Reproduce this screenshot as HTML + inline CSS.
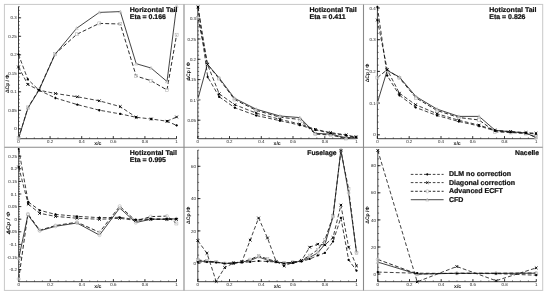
<!DOCTYPE html>
<html lang="en"><head><meta charset="utf-8"><title>Delta Cp comparison</title>
<style>
html,body{margin:0;padding:0;background:#fff;}
body{width:550px;height:295px;overflow:hidden;}
svg{display:block;}
text{font-family:"Liberation Sans", sans-serif;text-rendering:geometricPrecision;}
.tt{font-size:6.85px;font-weight:bold;fill:#111;stroke:#111;stroke-width:0.22;}
.lg{font-size:7.05px;font-weight:bold;fill:#111;stroke:#111;stroke-width:0.22;}
.tk{font-size:4.4px;fill:#1a1a1a;}
.xl{font-size:5.2px;font-weight:bold;fill:#222;}
.yl{font-size:5.1px;font-weight:bold;fill:#111;}
.ax{fill:none;stroke:#2a2a2a;stroke-width:0.9;}
.tkl{fill:none;stroke:#222;stroke-width:0.6;}.tkM{fill:none;stroke:#111;stroke-width:0.85;}
.sol{fill:none;stroke:#222;stroke-width:0.85;stroke-linejoin:round;}
.ecf{fill:none;stroke:#1a1a1a;stroke-width:0.92;stroke-dasharray:3.9 2.2;}
.dlm{fill:none;stroke:#111;stroke-width:0.8;stroke-dasharray:3.8 2.2;}
.dia{fill:none;stroke:#111;stroke-width:0.8;stroke-dasharray:3.8 2.2;}
.mx{fill:none;stroke:#000;stroke-width:1.0;}
.mp{fill:none;stroke:#000;stroke-width:1.2;}
.ms{fill:#fff;fill-opacity:0.5;stroke:#a0a0a0;stroke-width:0.45;}
.bd{fill:none;stroke:#c8c8c8;stroke-width:1;}
.dv{fill:none;stroke:#8a8a8a;stroke-width:1.1;}
</style></head><body>
<svg width="550" height="295" viewBox="0 0 550 295">
<defs><filter id="soft" filterUnits="userSpaceOnUse" x="0" y="0" width="550" height="295"><feGaussianBlur stdDeviation="0.32"/></filter></defs>
<rect x="0" y="0" width="550" height="295" fill="#fff"/>
<g filter="url(#soft)">
<rect class="bd" x="4.4" y="4.4" width="538.3" height="286"/>
<path class="dv" d="M184 4.4L184 290.4M363.5 4.4L363.5 290.4M4.4 147.3L542.7 147.3"/>
<path class="ax" d="M18.5 6.5L18.5 138.7L176.5 138.7"/>
<text class="tk" text-anchor="end" x="16.7" y="130.4">0</text>
<text class="tk" text-anchor="end" x="16.7" y="111.9">0.05</text>
<text class="tk" text-anchor="end" x="16.7" y="93.4">0.1</text>
<text class="tk" text-anchor="end" x="16.7" y="74.9">0.15</text>
<text class="tk" text-anchor="end" x="16.7" y="56.4">0.2</text>
<text class="tk" text-anchor="end" x="16.7" y="37.9">0.25</text>
<text class="tk" text-anchor="end" x="16.7" y="19.4">0.3</text>
<path class="tkl" d="M26.4 138.7L26.4 137.4M34.3 138.7L34.3 137.4M42.2 138.7L42.2 137.4M58.0 138.7L58.0 137.4M65.9 138.7L65.9 137.4M73.8 138.7L73.8 137.4M89.6 138.7L89.6 137.4M97.5 138.7L97.5 137.4M105.4 138.7L105.4 137.4M121.2 138.7L121.2 137.4M129.1 138.7L129.1 137.4M137.0 138.7L137.0 137.4M152.8 138.7L152.8 137.4M160.7 138.7L160.7 137.4M168.6 138.7L168.6 137.4M18.5 136.2L19.8 136.2M18.5 132.5L19.8 132.5M18.5 128.8L19.8 128.8M18.5 125.1L19.8 125.1M18.5 121.4L19.8 121.4M18.5 117.7L19.8 117.7M18.5 114.0L19.8 114.0M18.5 110.3L19.8 110.3M18.5 106.6L19.8 106.6M18.5 102.9L19.8 102.9M18.5 99.2L19.8 99.2M18.5 95.5L19.8 95.5M18.5 91.8L19.8 91.8M18.5 88.1L19.8 88.1M18.5 84.4L19.8 84.4M18.5 80.7L19.8 80.7M18.5 77.0L19.8 77.0M18.5 73.3L19.8 73.3M18.5 69.6L19.8 69.6M18.5 65.9L19.8 65.9M18.5 62.2L19.8 62.2M18.5 58.5L19.8 58.5M18.5 54.8L19.8 54.8M18.5 51.1L19.8 51.1M18.5 47.4L19.8 47.4M18.5 43.7L19.8 43.7M18.5 40.0L19.8 40.0M18.5 36.3L19.8 36.3M18.5 32.6L19.8 32.6M18.5 28.9L19.8 28.9M18.5 25.2L19.8 25.2M18.5 21.5L19.8 21.5M18.5 17.8L19.8 17.8M18.5 14.1L19.8 14.1M18.5 10.4L19.8 10.4M18.5 6.7L19.8 6.7"/>
<path class="tkM" d="M18.5 138.7L18.5 136.1M50.1 138.7L50.1 136.1M81.7 138.7L81.7 136.1M113.3 138.7L113.3 136.1M144.9 138.7L144.9 136.1M176.5 138.7L176.5 136.1M18.5 128.8L21.1 128.8M18.5 110.3L21.1 110.3M18.5 91.8L21.1 91.8M18.5 73.3L21.1 73.3M18.5 54.8L21.1 54.8M18.5 36.3L21.1 36.3M18.5 17.8L21.1 17.8"/>
<text class="tk" text-anchor="middle" x="18.5" y="143">0</text>
<text class="tk" text-anchor="middle" x="50.1" y="143">0.2</text>
<text class="tk" text-anchor="middle" x="81.7" y="143">0.4</text>
<text class="tk" text-anchor="middle" x="113.3" y="143">0.6</text>
<text class="tk" text-anchor="middle" x="144.9" y="143">0.8</text>
<text class="tk" text-anchor="middle" x="176.5" y="143">1</text>
<text class="xl" x="94.3" y="144.6">x/c</text>
<text class="yl"  x="-9.3" textLength="18.6" lengthAdjust="spacingAndGlyphs" transform="translate(9.3 83.8) rotate(-90)">ΔCp / Φ</text>
<path class="ecf" d="M18.6 138.2 L28.0 107.4 L39.0 89.6 L55.0 54.0 L76.8 34.3 L99.3 23.4 L120.3 24.0 L136.2 76.1 L151.0 80.7 L167.0 90.0 L176.6 34.7"/>
<rect class="ms" x="17.1" y="136.7" width="3.0" height="3.0"/>
<rect class="ms" x="26.5" y="105.9" width="3.0" height="3.0"/>
<rect class="ms" x="37.5" y="88.1" width="3.0" height="3.0"/>
<rect class="ms" x="53.5" y="52.5" width="3.0" height="3.0"/>
<rect class="ms" x="75.3" y="32.8" width="3.0" height="3.0"/>
<rect class="ms" x="97.8" y="21.9" width="3.0" height="3.0"/>
<rect class="ms" x="118.8" y="22.5" width="3.0" height="3.0"/>
<rect class="ms" x="134.7" y="74.6" width="3.0" height="3.0"/>
<rect class="ms" x="149.5" y="79.2" width="3.0" height="3.0"/>
<rect class="ms" x="165.5" y="88.5" width="3.0" height="3.0"/>
<rect class="ms" x="175.1" y="33.2" width="3.0" height="3.0"/>
<path class="sol" d="M18.6 138.2 L28.0 108.0 L39.0 90.2 L55.0 54.4 L76.6 28.3 L99.3 12.4 L120.3 11.6 L136.2 63.7 L151.0 68.0 L167.0 81.5 L176.6 6.0"/>
<path class="ms" d="M17.0 139.5L20.2 139.5L18.6 136.6Z"/>
<path class="ms" d="M26.4 109.3L29.6 109.3L28.0 106.4Z"/>
<path class="ms" d="M37.4 91.5L40.6 91.5L39.0 88.6Z"/>
<path class="ms" d="M53.4 55.7L56.6 55.7L55.0 52.8Z"/>
<path class="ms" d="M75.0 29.6L78.2 29.6L76.6 26.7Z"/>
<path class="ms" d="M97.7 13.7L100.9 13.7L99.3 10.8Z"/>
<path class="ms" d="M118.7 12.9L121.9 12.9L120.3 10.0Z"/>
<path class="ms" d="M134.6 65.0L137.8 65.0L136.2 62.1Z"/>
<path class="ms" d="M149.4 69.3L152.6 69.3L151.0 66.4Z"/>
<path class="ms" d="M165.4 82.8L168.6 82.8L167.0 79.9Z"/>
<path class="ms" d="M175.0 7.3L178.2 7.3L176.6 4.4Z"/>
<path class="dlm" d="M18.5 54.4 L27.8 79.3 L39.0 90.2 L55.4 98.0 L77.3 104.6 L99.3 110.2 L120.2 113.9 L136.2 117.3 L151.3 119.0 L167.0 121.2 L176.6 125.4"/>
<path class="dia" d="M18.5 67.0 L27.8 84.4 L39.0 90.2 L55.4 93.5 L77.3 96.8 L99.3 100.8 L120.2 106.6 L136.2 117.3"/>
<path class="dia" d="M167.0 121.2 L176.6 117.0"/>
<path class="mp" d="M17.4 54.4L19.6 54.4M18.5 53.2L18.5 55.5M26.7 79.3L28.9 79.3M27.8 78.1L27.8 80.5M37.9 90.2L40.1 90.2M39.0 89.0L39.0 91.4M54.2 98.0L56.5 98.0M55.4 96.8L55.4 99.2M76.1 104.6L78.5 104.6M77.3 103.4L77.3 105.8M98.1 110.2L100.5 110.2M99.3 109.0L99.3 111.4M119.0 113.9L121.4 113.9M120.2 112.8L120.2 115.1M135.0 117.3L137.3 117.3M136.2 116.1L136.2 118.5M150.2 119.0L152.5 119.0M151.3 117.8L151.3 120.2M165.8 121.2L168.2 121.2M167.0 120.0L167.0 122.4M175.4 125.4L177.8 125.4M176.6 124.2L176.6 126.6"/>
<path class="mx" d="M17.2 65.7L19.8 68.3M17.2 68.3L19.8 65.7M26.5 83.1L29.1 85.7M26.5 85.7L29.1 83.1M37.7 88.9L40.3 91.5M37.7 91.5L40.3 88.9M54.1 92.2L56.7 94.8M54.1 94.8L56.7 92.2M76.0 95.5L78.6 98.1M76.0 98.1L78.6 95.5M98.0 99.5L100.6 102.1M98.0 102.1L100.6 99.5M118.9 105.3L121.5 107.9M118.9 107.9L121.5 105.3M134.9 116.0L137.5 118.6M134.9 118.6L137.5 116.0M150.0 117.7L152.6 120.3M150.0 120.3L152.6 117.7M165.7 119.9L168.3 122.5M165.7 122.5L168.3 119.9M175.3 115.7L177.9 118.3M175.3 118.3L177.9 115.7"/>
<text class="tt" x="129.8" y="11.9" textLength="47.7" lengthAdjust="spacingAndGlyphs">Horizontal Tail</text>
<text class="tt" x="129.8" y="18.8" textLength="36.1" lengthAdjust="spacingAndGlyphs">Eta = 0.166</text>
<path class="ax" d="M197.8 6.5L197.8 138.7L356.5 138.7"/>
<text class="tk" text-anchor="end" x="196.0" y="121.8">0.05</text>
<text class="tk" text-anchor="end" x="196.0" y="101.5">0.1</text>
<text class="tk" text-anchor="end" x="196.0" y="81.2">0.15</text>
<text class="tk" text-anchor="end" x="196.0" y="60.9">0.2</text>
<text class="tk" text-anchor="end" x="196.0" y="40.6">0.25</text>
<text class="tk" text-anchor="end" x="196.0" y="20.3">0.3</text>
<path class="tkl" d="M205.7 138.7L205.7 137.4M213.7 138.7L213.7 137.4M221.6 138.7L221.6 137.4M237.5 138.7L237.5 137.4M245.4 138.7L245.4 137.4M253.3 138.7L253.3 137.4M269.2 138.7L269.2 137.4M277.1 138.7L277.1 137.4M285.1 138.7L285.1 137.4M301.0 138.7L301.0 137.4M308.9 138.7L308.9 137.4M316.8 138.7L316.8 137.4M332.7 138.7L332.7 137.4M340.6 138.7L340.6 137.4M348.6 138.7L348.6 137.4M197.8 136.4L199.1 136.4M197.8 132.4L199.1 132.4M197.8 128.3L199.1 128.3M197.8 124.3L199.1 124.3M197.8 120.2L199.1 120.2M197.8 116.1L199.1 116.1M197.8 112.1L199.1 112.1M197.8 108.0L199.1 108.0M197.8 104.0L199.1 104.0M197.8 99.9L199.1 99.9M197.8 95.8L199.1 95.8M197.8 91.8L199.1 91.8M197.8 87.7L199.1 87.7M197.8 83.7L199.1 83.7M197.8 79.6L199.1 79.6M197.8 75.5L199.1 75.5M197.8 71.5L199.1 71.5M197.8 67.4L199.1 67.4M197.8 63.4L199.1 63.4M197.8 59.3L199.1 59.3M197.8 55.2L199.1 55.2M197.8 51.2L199.1 51.2M197.8 47.1L199.1 47.1M197.8 43.1L199.1 43.1M197.8 39.0L199.1 39.0M197.8 34.9L199.1 34.9M197.8 30.9L199.1 30.9M197.8 26.8L199.1 26.8M197.8 22.8L199.1 22.8M197.8 18.7L199.1 18.7M197.8 14.6L199.1 14.6M197.8 10.6L199.1 10.6M197.8 6.5L199.1 6.5"/>
<path class="tkM" d="M197.8 138.7L197.8 136.1M229.5 138.7L229.5 136.1M261.3 138.7L261.3 136.1M293.0 138.7L293.0 136.1M324.8 138.7L324.8 136.1M356.5 138.7L356.5 136.1M197.8 120.2L200.4 120.2M197.8 99.9L200.4 99.9M197.8 79.6L200.4 79.6M197.8 59.3L200.4 59.3M197.8 39.0L200.4 39.0M197.8 18.7L200.4 18.7"/>
<text class="tk" text-anchor="middle" x="197.8" y="143">0</text>
<text class="tk" text-anchor="middle" x="229.5" y="143">0.2</text>
<text class="tk" text-anchor="middle" x="261.3" y="143">0.4</text>
<text class="tk" text-anchor="middle" x="293.0" y="143">0.6</text>
<text class="tk" text-anchor="middle" x="324.8" y="143">0.8</text>
<text class="tk" text-anchor="middle" x="356.5" y="143">1</text>
<text class="xl" x="273.5" y="144.6">x/c</text>
<text class="yl"  x="-9.3" textLength="18.6" lengthAdjust="spacingAndGlyphs" transform="translate(189.7 71.3) rotate(-90)">ΔCp / Φ</text>
<path class="ecf" d="M198.0 18.0 L207.4 64.2 L218.9 78.5 L234.5 99.5 L256.2 110.3 L279.9 117.2 L299.8 119.5 L315.3 134.1 L330.7 135.0 L346.2 138.5 L356.1 137.0"/>
<rect class="ms" x="196.5" y="16.5" width="3.0" height="3.0"/>
<rect class="ms" x="205.9" y="62.7" width="3.0" height="3.0"/>
<rect class="ms" x="217.4" y="77.0" width="3.0" height="3.0"/>
<rect class="ms" x="233.0" y="98.0" width="3.0" height="3.0"/>
<rect class="ms" x="254.7" y="108.8" width="3.0" height="3.0"/>
<rect class="ms" x="278.4" y="115.7" width="3.0" height="3.0"/>
<rect class="ms" x="298.3" y="118.0" width="3.0" height="3.0"/>
<rect class="ms" x="313.8" y="132.6" width="3.0" height="3.0"/>
<rect class="ms" x="329.2" y="133.5" width="3.0" height="3.0"/>
<rect class="ms" x="344.7" y="137.0" width="3.0" height="3.0"/>
<rect class="ms" x="354.6" y="135.5" width="3.0" height="3.0"/>
<path class="sol" d="M198.0 98.6 L207.4 64.2 L218.9 77.6 L234.5 98.3 L256.2 109.2 L279.9 116.0 L299.8 117.6 L315.3 133.3 L330.7 134.1 L346.2 137.8 L356.1 137.0"/>
<path class="ms" d="M196.4 99.9L199.6 99.9L198.0 97.0Z"/>
<path class="ms" d="M205.8 65.5L209.0 65.5L207.4 62.6Z"/>
<path class="ms" d="M217.3 78.9L220.5 78.9L218.9 76.0Z"/>
<path class="ms" d="M232.9 99.6L236.1 99.6L234.5 96.7Z"/>
<path class="ms" d="M254.6 110.5L257.8 110.5L256.2 107.6Z"/>
<path class="ms" d="M278.3 117.3L281.5 117.3L279.9 114.4Z"/>
<path class="ms" d="M298.2 118.9L301.4 118.9L299.8 116.0Z"/>
<path class="ms" d="M313.7 134.6L316.9 134.6L315.3 131.7Z"/>
<path class="ms" d="M329.1 135.4L332.3 135.4L330.7 132.5Z"/>
<path class="ms" d="M344.6 139.1L347.8 139.1L346.2 136.2Z"/>
<path class="ms" d="M354.5 138.3L357.7 138.3L356.1 135.4Z"/>
<path class="dlm" d="M198.0 7.0 L207.7 77.0 L219.2 96.8"/>
<path class="dlm" d="M219.2 96.8 L234.8 107.7 L256.2 115.5 L279.9 120.7 L299.8 125.1 L315.3 129.9 L330.7 133.2 L346.2 135.5 L356.1 137.5"/>
<path class="dia" d="M198.0 7.0 L207.5 64.5 L219.2 93.8"/>
<path class="dia" d="M219.2 93.8 L234.8 104.7 L256.2 113.1 L279.9 119.3 L299.8 124.0 L315.3 129.3 L330.7 132.6 L346.2 134.9 L356.1 137.1"/>
<path class="mp" d="M196.8 7.0L199.2 7.0M198.0 5.8L198.0 8.2M206.5 77.0L208.8 77.0M207.7 75.8L207.7 78.2M218.0 96.8L220.3 96.8M219.2 95.6L219.2 98.0M233.7 107.7L236.0 107.7M234.8 106.5L234.8 108.9M255.0 115.5L257.3 115.5M256.2 114.3L256.2 116.7M278.8 120.7L281.0 120.7M279.9 119.5L279.9 121.9M298.7 125.1L300.9 125.1M299.8 123.9L299.8 126.2M314.2 129.9L316.4 129.9M315.3 128.8L315.3 131.1M329.6 133.2L331.8 133.2M330.7 132.0L330.7 134.3M345.1 135.5L347.3 135.5M346.2 134.3L346.2 136.7M355.0 137.5L357.2 137.5M356.1 136.3L356.1 138.7"/>
<path class="mx" d="M196.7 5.7L199.3 8.3M196.7 8.3L199.3 5.7M206.2 63.2L208.8 65.8M206.2 65.8L208.8 63.2M217.9 92.5L220.5 95.1M217.9 95.1L220.5 92.5M233.5 103.4L236.1 106.0M233.5 106.0L236.1 103.4M254.9 111.8L257.5 114.4M254.9 114.4L257.5 111.8M278.6 118.0L281.2 120.6M278.6 120.6L281.2 118.0M298.5 122.7L301.1 125.3M298.5 125.3L301.1 122.7M314.0 128.0L316.6 130.6M314.0 130.6L316.6 128.0M329.4 131.3L332.0 133.9M329.4 133.9L332.0 131.3M344.9 133.6L347.5 136.2M344.9 136.2L347.5 133.6M354.8 135.8L357.4 138.4M354.8 138.4L357.4 135.8"/>
<text class="tt" x="309.5" y="11.9" textLength="47.2" lengthAdjust="spacingAndGlyphs">Hotizontal Tail</text>
<text class="tt" x="309.5" y="18.9" textLength="36.2" lengthAdjust="spacingAndGlyphs">Eta = 0.411</text>
<path class="ax" d="M377.4 6.5L377.4 138.7L536.3 138.7"/>
<text class="tk" text-anchor="end" x="375.6" y="136.4">0</text>
<text class="tk" text-anchor="end" x="375.6" y="104.7">0.1</text>
<text class="tk" text-anchor="end" x="375.6" y="73.0">0.2</text>
<text class="tk" text-anchor="end" x="375.6" y="41.3">0.3</text>
<text class="tk" text-anchor="end" x="375.6" y="9.6">0.4</text>
<path class="tkl" d="M385.3 138.7L385.3 137.4M393.3 138.7L393.3 137.4M401.2 138.7L401.2 137.4M417.1 138.7L417.1 137.4M425.1 138.7L425.1 137.4M433.0 138.7L433.0 137.4M448.9 138.7L448.9 137.4M456.8 138.7L456.8 137.4M464.8 138.7L464.8 137.4M480.7 138.7L480.7 137.4M488.6 138.7L488.6 137.4M496.6 138.7L496.6 137.4M512.5 138.7L512.5 137.4M520.4 138.7L520.4 137.4M528.4 138.7L528.4 137.4M377.4 134.8L378.7 134.8M377.4 128.5L378.7 128.5M377.4 122.1L378.7 122.1M377.4 115.8L378.7 115.8M377.4 109.4L378.7 109.4M377.4 103.1L378.7 103.1M377.4 96.8L378.7 96.8M377.4 90.4L378.7 90.4M377.4 84.1L378.7 84.1M377.4 77.7L378.7 77.7M377.4 71.4L378.7 71.4M377.4 65.1L378.7 65.1M377.4 58.7L378.7 58.7M377.4 52.4L378.7 52.4M377.4 46.0L378.7 46.0M377.4 39.7L378.7 39.7M377.4 33.4L378.7 33.4M377.4 27.0L378.7 27.0M377.4 20.7L378.7 20.7M377.4 14.3L378.7 14.3M377.4 8.0L378.7 8.0"/>
<path class="tkM" d="M377.4 138.7L377.4 136.1M409.2 138.7L409.2 136.1M441.0 138.7L441.0 136.1M472.7 138.7L472.7 136.1M504.5 138.7L504.5 136.1M536.3 138.7L536.3 136.1M377.4 134.8L380.0 134.8M377.4 103.1L380.0 103.1M377.4 71.4L380.0 71.4M377.4 39.7L380.0 39.7M377.4 8.0L380.0 8.0"/>
<text class="tk" text-anchor="middle" x="377.4" y="143">0</text>
<text class="tk" text-anchor="middle" x="409.2" y="143">0.2</text>
<text class="tk" text-anchor="middle" x="441.0" y="143">0.4</text>
<text class="tk" text-anchor="middle" x="472.7" y="143">0.6</text>
<text class="tk" text-anchor="middle" x="504.5" y="143">0.8</text>
<text class="tk" text-anchor="middle" x="536.3" y="143">1</text>
<text class="xl" x="453.5" y="144.6">x/c</text>
<text class="yl"  x="-9.3" textLength="18.6" lengthAdjust="spacingAndGlyphs" transform="translate(369.4 73) rotate(-90)">ΔCp / Φ</text>
<path class="ecf" d="M377.4 77.6 L387.2 69.7 L399.4 78.0 L416.0 97.9 L437.0 110.5 L458.8 117.5 L479.1 120.0 L495.2 131.8 L510.6 132.5 L526.0 133.5 L536.0 137.0"/>
<rect class="ms" x="375.9" y="76.1" width="3.0" height="3.0"/>
<rect class="ms" x="385.7" y="68.2" width="3.0" height="3.0"/>
<rect class="ms" x="397.9" y="76.5" width="3.0" height="3.0"/>
<rect class="ms" x="414.5" y="96.4" width="3.0" height="3.0"/>
<rect class="ms" x="435.5" y="109.0" width="3.0" height="3.0"/>
<rect class="ms" x="457.3" y="116.0" width="3.0" height="3.0"/>
<rect class="ms" x="477.6" y="118.5" width="3.0" height="3.0"/>
<rect class="ms" x="493.7" y="130.3" width="3.0" height="3.0"/>
<rect class="ms" x="509.1" y="131.0" width="3.0" height="3.0"/>
<rect class="ms" x="524.5" y="132.0" width="3.0" height="3.0"/>
<rect class="ms" x="534.5" y="135.5" width="3.0" height="3.0"/>
<path class="sol" d="M377.4 102.7 L387.2 70.5 L399.4 77.0 L416.0 96.6 L437.0 109.1 L458.8 116.4 L479.1 116.4 L495.2 130.3 L510.6 131.8 L526.0 132.9 L536.0 137.7"/>
<path class="ms" d="M375.8 104.0L379.0 104.0L377.4 101.1Z"/>
<path class="ms" d="M385.6 71.8L388.8 71.8L387.2 68.9Z"/>
<path class="ms" d="M397.8 78.3L401.0 78.3L399.4 75.4Z"/>
<path class="ms" d="M414.4 97.9L417.6 97.9L416.0 95.0Z"/>
<path class="ms" d="M435.4 110.4L438.6 110.4L437.0 107.5Z"/>
<path class="ms" d="M457.2 117.7L460.4 117.7L458.8 114.8Z"/>
<path class="ms" d="M477.5 117.7L480.7 117.7L479.1 114.8Z"/>
<path class="ms" d="M493.6 131.6L496.8 131.6L495.2 128.7Z"/>
<path class="ms" d="M509.0 133.1L512.2 133.1L510.6 130.2Z"/>
<path class="ms" d="M524.4 134.2L527.6 134.2L526.0 131.3Z"/>
<path class="ms" d="M534.4 139.0L537.6 139.0L536.0 136.1Z"/>
<path class="dlm" d="M377.4 7.0 L387.2 75.6 L399.4 95.2"/>
<path class="dlm" d="M399.4 95.2 L415.5 107.4 L437.0 115.5 L458.8 121.5 L479.1 126.0 L495.2 130.9 L510.6 132.1 L526.0 133.2 L536.0 133.9"/>
<path class="dia" d="M377.4 20.0 L387.2 69.7 L399.4 93.2"/>
<path class="dia" d="M399.4 93.2 L415.5 104.7 L437.0 113.7 L458.8 120.3 L479.1 125.1 L495.2 130.3 L510.6 131.5 L526.0 132.6 L536.0 133.3"/>
<path class="mp" d="M376.2 7.0L378.5 7.0M377.4 5.8L377.4 8.2M386.1 75.6L388.3 75.6M387.2 74.4L387.2 76.8M398.2 95.2L400.5 95.2M399.4 94.0L399.4 96.4M414.4 107.4L416.6 107.4M415.5 106.2L415.5 108.6M435.9 115.5L438.1 115.5M437.0 114.3L437.0 116.7M457.7 121.5L459.9 121.5M458.8 120.3L458.8 122.7M478.0 126.0L480.2 126.0M479.1 124.8L479.1 127.2M494.1 130.9L496.3 130.9M495.2 129.8L495.2 132.1M509.5 132.1L511.8 132.1M510.6 130.9L510.6 133.2M524.9 133.2L527.1 133.2M526.0 132.0L526.0 134.3M534.9 133.9L537.1 133.9M536.0 132.8L536.0 135.1"/>
<path class="mx" d="M376.1 18.7L378.7 21.3M376.1 21.3L378.7 18.7M385.9 68.4L388.5 71.0M385.9 71.0L388.5 68.4M398.1 91.9L400.7 94.5M398.1 94.5L400.7 91.9M414.2 103.4L416.8 106.0M414.2 106.0L416.8 103.4M435.7 112.4L438.3 115.0M435.7 115.0L438.3 112.4M457.5 119.0L460.1 121.6M457.5 121.6L460.1 119.0M477.8 123.8L480.4 126.4M477.8 126.4L480.4 123.8M493.9 129.0L496.5 131.6M493.9 131.6L496.5 129.0M509.3 130.2L511.9 132.8M509.3 132.8L511.9 130.2M524.7 131.3L527.3 133.9M524.7 133.9L527.3 131.3M534.7 132.0L537.3 134.6M534.7 134.6L537.3 132.0"/>
<text class="tt" x="489.3" y="11.9" textLength="47.2" lengthAdjust="spacingAndGlyphs">Hotizontal Tail</text>
<text class="tt" x="489.3" y="18.9" textLength="36.2" lengthAdjust="spacingAndGlyphs">Eta = 0.826</text>
<path class="ax" d="M18.7 149L18.7 281.7L176.5 281.7"/>
<text class="tk" text-anchor="end" x="16.9" y="271.2">-0.2</text>
<text class="tk" text-anchor="end" x="16.9" y="258.6">-0.15</text>
<text class="tk" text-anchor="end" x="16.9" y="246.0">-0.1</text>
<text class="tk" text-anchor="end" x="16.9" y="233.4">-0.05</text>
<text class="tk" text-anchor="end" x="16.9" y="220.8">0</text>
<text class="tk" text-anchor="end" x="16.9" y="208.2">0.05</text>
<text class="tk" text-anchor="end" x="16.9" y="195.6">0.1</text>
<text class="tk" text-anchor="end" x="16.9" y="183.0">0.15</text>
<text class="tk" text-anchor="end" x="16.9" y="170.4">0.2</text>
<text class="tk" text-anchor="end" x="16.9" y="157.8">0.25</text>
<path class="tkl" d="M26.6 281.7L26.6 280.4M34.5 281.7L34.5 280.4M42.4 281.7L42.4 280.4M58.2 281.7L58.2 280.4M66.0 281.7L66.0 280.4M73.9 281.7L73.9 280.4M89.7 281.7L89.7 280.4M97.6 281.7L97.6 280.4M105.5 281.7L105.5 280.4M121.3 281.7L121.3 280.4M129.2 281.7L129.2 280.4M137.0 281.7L137.0 280.4M152.8 281.7L152.8 280.4M160.7 281.7L160.7 280.4M168.6 281.7L168.6 280.4M18.7 279.7L20.0 279.7M18.7 277.2L20.0 277.2M18.7 274.6L20.0 274.6M18.7 272.1L20.0 272.1M18.7 269.6L20.0 269.6M18.7 267.1L20.0 267.1M18.7 264.6L20.0 264.6M18.7 262.0L20.0 262.0M18.7 259.5L20.0 259.5M18.7 257.0L20.0 257.0M18.7 254.5L20.0 254.5M18.7 252.0L20.0 252.0M18.7 249.4L20.0 249.4M18.7 246.9L20.0 246.9M18.7 244.4L20.0 244.4M18.7 241.9L20.0 241.9M18.7 239.4L20.0 239.4M18.7 236.8L20.0 236.8M18.7 234.3L20.0 234.3M18.7 231.8L20.0 231.8M18.7 229.3L20.0 229.3M18.7 226.8L20.0 226.8M18.7 224.2L20.0 224.2M18.7 221.7L20.0 221.7M18.7 219.2L20.0 219.2M18.7 216.7L20.0 216.7M18.7 214.2L20.0 214.2M18.7 211.6L20.0 211.6M18.7 209.1L20.0 209.1M18.7 206.6L20.0 206.6M18.7 204.1L20.0 204.1M18.7 201.6L20.0 201.6M18.7 199.0L20.0 199.0M18.7 196.5L20.0 196.5M18.7 194.0L20.0 194.0M18.7 191.5L20.0 191.5M18.7 189.0L20.0 189.0M18.7 186.4L20.0 186.4M18.7 183.9L20.0 183.9M18.7 181.4L20.0 181.4M18.7 178.9L20.0 178.9M18.7 176.4L20.0 176.4M18.7 173.8L20.0 173.8M18.7 171.3L20.0 171.3M18.7 168.8L20.0 168.8M18.7 166.3L20.0 166.3M18.7 163.8L20.0 163.8M18.7 161.2L20.0 161.2M18.7 158.7L20.0 158.7M18.7 156.2L20.0 156.2M18.7 153.7L20.0 153.7M18.7 151.2L20.0 151.2"/>
<path class="tkM" d="M18.7 281.7L18.7 279.1M50.3 281.7L50.3 279.1M81.8 281.7L81.8 279.1M113.4 281.7L113.4 279.1M144.9 281.7L144.9 279.1M176.5 281.7L176.5 279.1M18.7 269.6L21.3 269.6M18.7 257.0L21.3 257.0M18.7 244.4L21.3 244.4M18.7 231.8L21.3 231.8M18.7 219.2L21.3 219.2M18.7 206.6L21.3 206.6M18.7 194.0L21.3 194.0M18.7 181.4L21.3 181.4M18.7 168.8L21.3 168.8M18.7 156.2L21.3 156.2"/>
<text class="tk" text-anchor="middle" x="18.7" y="286.2">0</text>
<text class="tk" text-anchor="middle" x="50.3" y="286.2">0.2</text>
<text class="tk" text-anchor="middle" x="81.8" y="286.2">0.4</text>
<text class="tk" text-anchor="middle" x="113.4" y="286.2">0.6</text>
<text class="tk" text-anchor="middle" x="144.9" y="286.2">0.8</text>
<text class="tk" text-anchor="middle" x="176.5" y="286.2">1</text>
<text class="xl" x="94.3" y="287.8">x/c</text>
<text class="yl" font-style="italic" font-size="5.5" x="-11.2" textLength="22.5" lengthAdjust="spacingAndGlyphs" transform="translate(9.7 223) rotate(-90)">ΔCp / Φ</text>
<path class="ecf" d="M18.7 279.0 L27.9 213.9 L39.7 230.2 L55.5 225.6 L77.0 222.2 L99.5 232.3 L119.7 206.2 L135.8 220.9 L150.8 216.6 L166.9 216.1 L176.4 223.5"/>
<circle class="ms" cx="18.7" cy="279.0" r="1.6"/>
<circle class="ms" cx="27.9" cy="213.9" r="1.6"/>
<circle class="ms" cx="39.7" cy="230.2" r="1.6"/>
<circle class="ms" cx="55.5" cy="225.6" r="1.6"/>
<circle class="ms" cx="77.0" cy="222.2" r="1.6"/>
<circle class="ms" cx="99.5" cy="232.3" r="1.6"/>
<circle class="ms" cx="119.7" cy="206.2" r="1.6"/>
<circle class="ms" cx="135.8" cy="220.9" r="1.6"/>
<circle class="ms" cx="150.8" cy="216.6" r="1.6"/>
<circle class="ms" cx="166.9" cy="216.1" r="1.6"/>
<rect class="ms" x="174.9" y="222.0" width="3.0" height="3.0"/>
<path class="sol" d="M18.7 258.5 L27.9 215.0 L39.7 230.8 L55.5 226.3 L77.0 223.0 L99.5 235.1 L119.7 208.0 L135.8 222.6 L150.8 219.2 L166.9 219.2 L176.4 218.8"/>
<circle class="ms" cx="18.7" cy="258.5" r="1.6"/>
<circle class="ms" cx="27.9" cy="215.0" r="1.6"/>
<circle class="ms" cx="39.7" cy="230.8" r="1.6"/>
<circle class="ms" cx="55.5" cy="226.3" r="1.6"/>
<circle class="ms" cx="77.0" cy="223.0" r="1.6"/>
<circle class="ms" cx="99.5" cy="235.1" r="1.6"/>
<circle class="ms" cx="119.7" cy="208.0" r="1.6"/>
<circle class="ms" cx="135.8" cy="222.6" r="1.6"/>
<circle class="ms" cx="150.8" cy="219.2" r="1.6"/>
<circle class="ms" cx="166.9" cy="219.2" r="1.6"/>
<circle class="ms" cx="176.4" cy="218.8" r="1.6"/>
<path class="dlm" d="M18.7 149.0 L28.2 201.9"/>
<path class="dlm" d="M28.2 201.9 L39.7 210.3 L55.5 214.4 L77.0 216.3 L99.5 217.7 L119.7 217.3 L135.8 219.6 L150.8 218.8 L166.9 218.8 L176.4 218.8"/>
<path class="dia" d="M18.7 167.0 L28.2 204.1"/>
<path class="dia" d="M28.2 204.1 L39.7 213.3 L55.5 216.4 L77.0 218.2 L99.5 219.3 L119.7 218.3 L135.8 220.4 L150.8 219.5 L166.9 219.5 L176.4 219.4"/>
<path class="mp" d="M27.1 201.9L29.3 201.9M28.2 200.8L28.2 203.1M38.6 210.3L40.9 210.3M39.7 209.2L39.7 211.5M54.4 214.4L56.6 214.4M55.5 213.2L55.5 215.6M75.8 216.3L78.2 216.3M77.0 215.2L77.0 217.5M98.3 217.7L100.7 217.7M99.5 216.5L99.5 218.8M118.5 217.3L120.9 217.3M119.7 216.2L119.7 218.5M134.7 219.6L137.0 219.6M135.8 218.4L135.8 220.8M149.7 218.8L152.0 218.8M150.8 217.7L150.8 220.0M165.8 218.8L168.1 218.8M166.9 217.7L166.9 220.0M175.2 218.8L177.6 218.8M176.4 217.7L176.4 220.0"/>
<path class="mp" d="M17.8 149.0L19.6 149.0M18.7 148.1L18.7 149.9"/>
<path class="mx" d="M17.4 165.7L20.0 168.3M17.4 168.3L20.0 165.7M26.9 202.8L29.5 205.4M26.9 205.4L29.5 202.8M38.4 212.0L41.0 214.6M38.4 214.6L41.0 212.0M54.2 215.1L56.8 217.7M54.2 217.7L56.8 215.1M75.7 216.9L78.3 219.5M75.7 219.5L78.3 216.9M98.2 218.0L100.8 220.6M98.2 220.6L100.8 218.0M118.4 217.0L121.0 219.6M118.4 219.6L121.0 217.0M134.5 219.1L137.1 221.7M134.5 221.7L137.1 219.1M149.5 218.2L152.1 220.8M149.5 220.8L152.1 218.2M165.6 218.2L168.2 220.8M165.6 220.8L168.2 218.2M175.1 218.1L177.7 220.7M175.1 220.7L177.7 218.1"/>
<text class="tt" x="129.8" y="155" textLength="47.2" lengthAdjust="spacingAndGlyphs">Hotizontal Tail</text>
<text class="tt" x="129.8" y="162.1" textLength="36.2" lengthAdjust="spacingAndGlyphs">Eta = 0.995</text>
<path class="ax" d="M197.8 150L197.8 281.7L356.5 281.7"/>
<text class="tk" text-anchor="end" x="196.0" y="264.8">0</text>
<text class="tk" text-anchor="end" x="196.0" y="232.5">20</text>
<text class="tk" text-anchor="end" x="196.0" y="200.2">40</text>
<text class="tk" text-anchor="end" x="196.0" y="167.9">60</text>
<path class="tkl" d="M205.7 281.7L205.7 280.4M213.7 281.7L213.7 280.4M221.6 281.7L221.6 280.4M237.5 281.7L237.5 280.4M245.4 281.7L245.4 280.4M253.3 281.7L253.3 280.4M269.2 281.7L269.2 280.4M277.1 281.7L277.1 280.4M285.1 281.7L285.1 280.4M301.0 281.7L301.0 280.4M308.9 281.7L308.9 280.4M316.8 281.7L316.8 280.4M332.7 281.7L332.7 280.4M340.6 281.7L340.6 280.4M348.6 281.7L348.6 280.4M197.8 279.3L199.1 279.3M197.8 271.3L199.1 271.3M197.8 263.2L199.1 263.2M197.8 255.1L199.1 255.1M197.8 247.0L199.1 247.0M197.8 239.0L199.1 239.0M197.8 230.9L199.1 230.9M197.8 222.8L199.1 222.8M197.8 214.8L199.1 214.8M197.8 206.7L199.1 206.7M197.8 198.6L199.1 198.6M197.8 190.5L199.1 190.5M197.8 182.4L199.1 182.4M197.8 174.4L199.1 174.4M197.8 166.3L199.1 166.3M197.8 158.2L199.1 158.2M197.8 150.1L199.1 150.1"/>
<path class="tkM" d="M197.8 281.7L197.8 279.1M229.5 281.7L229.5 279.1M261.3 281.7L261.3 279.1M293.0 281.7L293.0 279.1M324.8 281.7L324.8 279.1M356.5 281.7L356.5 279.1M197.8 263.2L200.4 263.2M197.8 230.9L200.4 230.9M197.8 198.6L200.4 198.6M197.8 166.3L200.4 166.3"/>
<text class="tk" text-anchor="middle" x="197.8" y="286.2">0</text>
<text class="tk" text-anchor="middle" x="229.5" y="286.2">0.2</text>
<text class="tk" text-anchor="middle" x="261.3" y="286.2">0.4</text>
<text class="tk" text-anchor="middle" x="293.0" y="286.2">0.6</text>
<text class="tk" text-anchor="middle" x="324.8" y="286.2">0.8</text>
<text class="tk" text-anchor="middle" x="356.5" y="286.2">1</text>
<text class="xl" x="273.7" y="287.8">x/c</text>
<text class="yl"  x="-8.7" textLength="17.3" lengthAdjust="spacingAndGlyphs" transform="translate(189.5 215.2) rotate(-90)">ΔCp /Φ</text>
<path class="ecf" d="M197.8 260.0 L207.0 261.0 L216.2 262.0 L224.7 263.5 L233.5 263.0 L242.0 262.0 L250.2 259.5 L258.6 255.8 L267.5 259.0 L276.1 261.5 L284.2 263.0 L292.8 262.3 L301.5 260.5 L309.7 255.5 L317.8 249.6 L324.9 240.0 L333.0 216.1 L340.9 151.0 L348.6 189.0 L356.5 252.9"/>
<rect class="ms" x="196.4" y="258.6" width="2.8" height="2.8"/>
<rect class="ms" x="205.6" y="259.6" width="2.8" height="2.8"/>
<rect class="ms" x="214.8" y="260.6" width="2.8" height="2.8"/>
<rect class="ms" x="223.3" y="262.1" width="2.8" height="2.8"/>
<rect class="ms" x="232.1" y="261.6" width="2.8" height="2.8"/>
<rect class="ms" x="240.6" y="260.6" width="2.8" height="2.8"/>
<rect class="ms" x="248.8" y="258.1" width="2.8" height="2.8"/>
<rect class="ms" x="257.2" y="254.4" width="2.8" height="2.8"/>
<rect class="ms" x="266.1" y="257.6" width="2.8" height="2.8"/>
<rect class="ms" x="274.7" y="260.1" width="2.8" height="2.8"/>
<rect class="ms" x="282.8" y="261.6" width="2.8" height="2.8"/>
<rect class="ms" x="291.4" y="260.9" width="2.8" height="2.8"/>
<rect class="ms" x="300.1" y="259.1" width="2.8" height="2.8"/>
<rect class="ms" x="308.3" y="254.1" width="2.8" height="2.8"/>
<rect class="ms" x="316.4" y="248.2" width="2.8" height="2.8"/>
<rect class="ms" x="323.5" y="238.6" width="2.8" height="2.8"/>
<rect class="ms" x="331.6" y="214.7" width="2.8" height="2.8"/>
<rect class="ms" x="339.5" y="149.6" width="2.8" height="2.8"/>
<rect class="ms" x="347.2" y="187.6" width="2.8" height="2.8"/>
<rect class="ms" x="355.1" y="251.5" width="2.8" height="2.8"/>
<path class="sol" d="M197.8 261.0 L207.0 261.5 L216.2 262.0 L224.7 263.5 L233.5 263.0 L242.0 262.0 L250.2 260.5 L258.6 257.0 L267.5 260.0 L276.1 262.0 L284.2 263.0 L292.8 262.5 L301.5 261.0 L309.7 257.4 L317.8 252.9 L324.9 244.2 L333.0 217.0 L340.9 149.8 L348.6 193.0 L356.5 252.3"/>
<circle class="ms" cx="197.8" cy="261.0" r="1.4"/>
<circle class="ms" cx="207.0" cy="261.5" r="1.4"/>
<circle class="ms" cx="216.2" cy="262.0" r="1.4"/>
<circle class="ms" cx="224.7" cy="263.5" r="1.4"/>
<circle class="ms" cx="233.5" cy="263.0" r="1.4"/>
<circle class="ms" cx="242.0" cy="262.0" r="1.4"/>
<circle class="ms" cx="250.2" cy="260.5" r="1.4"/>
<circle class="ms" cx="258.6" cy="257.0" r="1.4"/>
<circle class="ms" cx="267.5" cy="260.0" r="1.4"/>
<circle class="ms" cx="276.1" cy="262.0" r="1.4"/>
<circle class="ms" cx="284.2" cy="263.0" r="1.4"/>
<circle class="ms" cx="292.8" cy="262.5" r="1.4"/>
<circle class="ms" cx="301.5" cy="261.0" r="1.4"/>
<circle class="ms" cx="309.7" cy="257.4" r="1.4"/>
<circle class="ms" cx="317.8" cy="252.9" r="1.4"/>
<circle class="ms" cx="324.9" cy="244.2" r="1.4"/>
<circle class="ms" cx="333.0" cy="217.0" r="1.4"/>
<circle class="ms" cx="340.9" cy="149.8" r="1.4"/>
<circle class="ms" cx="348.6" cy="193.0" r="1.4"/>
<circle class="ms" cx="356.5" cy="252.3" r="1.4"/>
<path class="dlm" d="M197.8 262.0 L207.0 262.0 L216.2 262.5 L224.7 263.5 L233.5 263.2 L242.0 262.5 L250.2 261.8 L258.6 261.0 L267.5 261.5 L276.1 262.0 L284.2 263.5 L292.8 263.0 L301.5 261.5 L309.7 259.0 L317.8 255.5 L324.9 252.9 L333.0 241.5 L340.9 217.8 L348.6 259.8 L356.5 270.6"/>
<path class="dia" d="M197.8 240.7 L207.0 253.3 L216.2 281.4 L224.7 267.6 L233.5 263.1 L242.0 261.5 L250.2 240.1 L258.6 218.0 L267.5 238.0 L276.1 261.5 L284.2 265.9 L292.8 262.5 L301.5 260.5 L309.7 247.2 L317.8 244.2 L324.9 244.9 L333.0 237.6 L340.9 205.1 L348.6 247.1 L356.5 265.9"/>
<path class="mp" d="M196.7 262.0L199.0 262.0M197.8 260.9L197.8 263.1M205.8 262.0L208.2 262.0M207.0 260.9L207.0 263.1M215.0 262.5L217.3 262.5M216.2 261.4L216.2 263.6M223.5 263.5L225.8 263.5M224.7 262.4L224.7 264.6M232.3 263.2L234.7 263.2M233.5 262.1L233.5 264.3M240.8 262.5L243.2 262.5M242.0 261.4L242.0 263.6M249.0 261.8L251.3 261.8M250.2 260.7L250.2 262.9M257.5 261.0L259.8 261.0M258.6 259.9L258.6 262.1M266.4 261.5L268.6 261.5M267.5 260.4L267.5 262.6M275.0 262.0L277.2 262.0M276.1 260.9L276.1 263.1M283.1 263.5L285.3 263.5M284.2 262.4L284.2 264.6M291.7 263.0L293.9 263.0M292.8 261.9L292.8 264.1M300.4 261.5L302.6 261.5M301.5 260.4L301.5 262.6M308.6 259.0L310.8 259.0M309.7 257.9L309.7 260.1M316.7 255.5L318.9 255.5M317.8 254.3L317.8 256.6M323.8 252.9L326.0 252.9M324.9 251.8L324.9 254.1M331.9 241.5L334.1 241.5M333.0 240.3L333.0 242.7M339.8 217.8L342.0 217.8M340.9 216.7L340.9 219.0M347.5 259.8L349.8 259.8M348.6 258.7L348.6 260.9M355.4 270.6L357.6 270.6M356.5 269.5L356.5 271.8"/>
<path class="mx" d="M196.5 239.4L199.1 242.0M196.5 242.0L199.1 239.4M205.7 252.0L208.3 254.6M205.7 254.6L208.3 252.0M214.9 280.1L217.5 282.7M214.9 282.7L217.5 280.1M223.4 266.3L226.0 268.9M223.4 268.9L226.0 266.3M232.2 261.8L234.8 264.4M232.2 264.4L234.8 261.8M240.7 260.2L243.3 262.8M240.7 262.8L243.3 260.2M248.9 238.8L251.5 241.4M248.9 241.4L251.5 238.8M257.3 216.7L259.9 219.3M257.3 219.3L259.9 216.7M266.2 236.7L268.8 239.3M266.2 239.3L268.8 236.7M274.8 260.2L277.4 262.8M274.8 262.8L277.4 260.2M282.9 264.6L285.5 267.2M282.9 267.2L285.5 264.6M291.5 261.2L294.1 263.8M291.5 263.8L294.1 261.2M300.2 259.2L302.8 261.8M300.2 261.8L302.8 259.2M308.4 245.9L311.0 248.5M308.4 248.5L311.0 245.9M316.5 242.9L319.1 245.5M316.5 245.5L319.1 242.9M323.6 243.6L326.2 246.2M323.6 246.2L326.2 243.6M331.7 236.3L334.3 238.9M331.7 238.9L334.3 236.3M339.6 203.8L342.2 206.4M339.6 206.4L342.2 203.8M347.3 245.8L349.9 248.4M347.3 248.4L349.9 245.8M355.2 264.6L357.8 267.2M355.2 267.2L357.8 264.6"/>
<path class="mx" d="M340.0 149.4L342.0 151.4M340.0 151.4L342.0 149.4"/>
<text class="tt" x="307.3" y="154.9" textLength="29.3" lengthAdjust="spacingAndGlyphs">Fuselage</text>
<path class="ax" d="M377.8 150L377.8 281.7L536.3 281.7"/>
<text class="tk" text-anchor="end" x="376.0" y="275.7">0</text>
<text class="tk" text-anchor="end" x="376.0" y="248.6">20</text>
<text class="tk" text-anchor="end" x="376.0" y="221.5">40</text>
<text class="tk" text-anchor="end" x="376.0" y="194.4">60</text>
<text class="tk" text-anchor="end" x="376.0" y="167.3">80</text>
<path class="tkl" d="M385.7 281.7L385.7 280.4M393.6 281.7L393.6 280.4M401.6 281.7L401.6 280.4M417.4 281.7L417.4 280.4M425.4 281.7L425.4 280.4M433.3 281.7L433.3 280.4M449.1 281.7L449.1 280.4M457.0 281.7L457.0 280.4M465.0 281.7L465.0 280.4M480.8 281.7L480.8 280.4M488.8 281.7L488.8 280.4M496.7 281.7L496.7 280.4M512.5 281.7L512.5 280.4M520.4 281.7L520.4 280.4M528.4 281.7L528.4 280.4M377.8 280.9L379.1 280.9M377.8 274.1L379.1 274.1M377.8 267.3L379.1 267.3M377.8 260.6L379.1 260.6M377.8 253.8L379.1 253.8M377.8 247.0L379.1 247.0M377.8 240.2L379.1 240.2M377.8 233.5L379.1 233.5M377.8 226.7L379.1 226.7M377.8 219.9L379.1 219.9M377.8 213.1L379.1 213.1M377.8 206.4L379.1 206.4M377.8 199.6L379.1 199.6M377.8 192.8L379.1 192.8M377.8 186.0L379.1 186.0M377.8 179.3L379.1 179.3M377.8 172.5L379.1 172.5M377.8 165.7L379.1 165.7M377.8 158.9L379.1 158.9M377.8 152.2L379.1 152.2"/>
<path class="tkM" d="M377.8 281.7L377.8 279.1M409.5 281.7L409.5 279.1M441.2 281.7L441.2 279.1M472.9 281.7L472.9 279.1M504.6 281.7L504.6 279.1M536.3 281.7L536.3 279.1M377.8 274.1L380.4 274.1M377.8 247.0L380.4 247.0M377.8 219.9L380.4 219.9M377.8 192.8L380.4 192.8M377.8 165.7L380.4 165.7"/>
<text class="tk" text-anchor="middle" x="377.8" y="286.2">0</text>
<text class="tk" text-anchor="middle" x="409.5" y="286.2">0.2</text>
<text class="tk" text-anchor="middle" x="441.2" y="286.2">0.4</text>
<text class="tk" text-anchor="middle" x="472.9" y="286.2">0.6</text>
<text class="tk" text-anchor="middle" x="504.6" y="286.2">0.8</text>
<text class="tk" text-anchor="middle" x="536.3" y="286.2">1</text>
<text class="xl" x="454" y="287.8">x/c</text>
<text class="yl"  x="-8.7" textLength="17.3" lengthAdjust="spacingAndGlyphs" transform="translate(369.3 215) rotate(-90)">ΔCp /Φ</text>
<path class="ecf" d="M377.8 259.4 L417.2 274.0 L456.8 273.2 L496.0 273.2 L536.2 273.0"/>
<circle class="ms" cx="377.8" cy="259.4" r="1.6"/>
<circle class="ms" cx="417.2" cy="274.0" r="1.6"/>
<circle class="ms" cx="456.8" cy="273.2" r="1.6"/>
<circle class="ms" cx="496.0" cy="273.2" r="1.6"/>
<circle class="ms" cx="536.2" cy="273.0" r="1.6"/>
<path class="sol" d="M377.8 262.1 L417.2 274.1 L456.8 273.3 L496.0 273.4 L536.2 273.2"/>
<path class="ms" d="M376.2 263.4L379.4 263.4L377.8 260.5Z"/>
<path class="ms" d="M415.6 275.4L418.8 275.4L417.2 272.5Z"/>
<path class="ms" d="M455.2 274.6L458.4 274.6L456.8 271.7Z"/>
<path class="ms" d="M494.4 274.7L497.6 274.7L496.0 271.8Z"/>
<path class="ms" d="M534.6 274.5L537.8 274.5L536.2 271.6Z"/>
<path class="dlm" d="M377.8 272.1 L417.2 273.2 L456.8 273.5 L496.0 273.6 L536.2 275.2"/>
<path class="dia" d="M377.8 150.4 L417.2 281.8 L456.8 266.5 L496.0 280.7 L536.2 267.9"/>
<path class="mp" d="M376.7 272.1L378.9 272.1M377.8 271.0L377.8 273.2M416.1 273.2L418.3 273.2M417.2 272.1L417.2 274.3M455.7 273.5L457.9 273.5M456.8 272.4L456.8 274.6M494.9 273.6L497.1 273.6M496.0 272.5L496.0 274.8M535.1 275.2L537.4 275.2M536.2 274.1L536.2 276.3"/>
<path class="mx" d="M376.5 149.1L379.1 151.7M376.5 151.7L379.1 149.1M415.9 280.5L418.5 283.1M415.9 283.1L418.5 280.5M455.5 265.2L458.1 267.8M455.5 267.8L458.1 265.2M494.7 279.4L497.3 282.0M494.7 282.0L497.3 279.4M534.9 266.6L537.5 269.2M534.9 269.2L537.5 266.6"/>
<text class="tt" x="515.1" y="155.4">Nacelle</text>
<path class="dlm" style="stroke-dasharray:2.6 1.8" d="M410.8 174.4L443.6 174.4"/>
<path class="mp" d="M426.2 174.4L428.4 174.4M427.3 173.3L427.3 175.5"/>
<path class="dia" style="stroke-dasharray:2.6 1.8" d="M410.8 182.6L443.6 182.6"/>
<path class="mx" d="M426.2 181.5L428.4 183.7M426.2 183.7L428.4 181.5"/>
<path class="ecf" style="stroke-dasharray:2.6 1.8" d="M410.8 191.3L443.6 191.3"/>
<circle class="ms" cx="427.3" cy="191.3" r="1.6"/>
<path d="M410.8 199.7L443.6 199.7" fill="none" stroke="#6a6a6a" stroke-width="1.3"/>
<path class="ms" d="M425.7 201.0L428.9 201.0L427.3 198.1Z"/>
<text class="lg" x="448.9" y="176.3">DLM no correction</text>
<text class="lg" x="448.9" y="184.8">Diagonal correction</text>
<text class="lg" x="448.9" y="193.1">Advanced ECFT</text>
<text class="lg" x="448.9" y="201.5">CFD</text>
</g>
</svg></body></html>
